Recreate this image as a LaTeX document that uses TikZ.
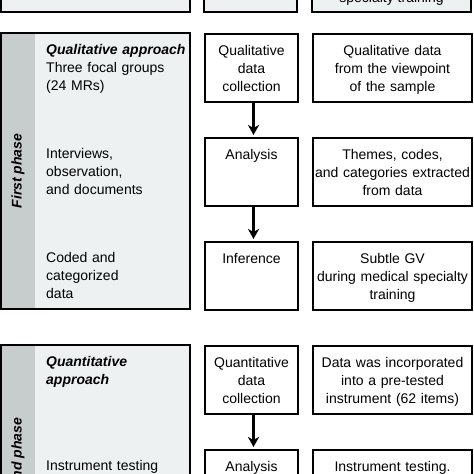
\documentclass[tikz,border=0pt]{standalone}
\usepackage{fontspec}
\setmainfont{Liberation Sans}
\usetikzlibrary{arrows.meta, positioning}
\definecolor{stripgray}{RGB}{199,205,204}
\definecolor{panelgray}{RGB}{238,241,241}
\tikzset{
  body font/.style={font=\fontsize{14}{18}\selectfont},
  stage box/.style={
    body font, draw=black, line width=2pt, fill=white,  % framed step
    inner sep=0pt, align=center, anchor=north west,
    text height=21pt, text depth=47pt,                  % text sits at the top
  },
  mid box/.style={stage box, text width=93pt},
  out box/.style={stage box, text width=159pt},
  panel text/.style={body font, anchor=base west, align=left, inner sep=0pt, text width=140pt},
  phase label/.style={rotate=90, inner sep=0pt, font=\bfseries\itshape\fontsize{14}{18}\selectfont},
  flow arrow/.style={
    -{Stealth[length=10pt, width=11pt, inset=3pt]},
    line width=2.5pt, shorten >=2pt,
  }
}

\begin{document}
\begin{tikzpicture}[x=1pt, y=1pt]
    \useasboundingbox (0,0) rectangle (474,-474);
    \clip (0,0) rectangle (474,-474);
    \def\lw{2pt}

    % Row above (cut by the frame)
    \draw[line width=\lw, fill=panelgray] (1,40) rectangle (190,-12);
    \draw[line width=\lw, fill=panelgray] (204,40) rectangle (297,-12);
    \draw[line width=\lw, fill=panelgray] (312,40) rectangle (471,-12);
    \node[body font, anchor=base, inner sep=0pt] (top) at (391.5,-2) {specialty training};

    % First phase panel
    \fill[panelgray] (1,-33) rectangle (190,-309);
    \fill[stripgray] (1,-33) rectangle (35,-309);
    \draw[line width=\lw] (1,-33) rectangle (190,-309);
    \node[phase label] (p1) at (18,-171) {First phase};

    \node[panel text] (qa) at (46,-54) {\textbf{\textit{Qualitative approach}}\\Three focal groups\\(24 MRs)};
    \node[panel text] (iod) at (46,-158) {Interviews,\\observation,\\and documents};
    \node[panel text] (ccd) at (46,-262) {Coded and\\categorized\\data};

    \node[mid box] (qdc) at (204,-33) {Qualitative\\data\\collection};
    \node[mid box] (ana1) at (204,-137) {Analysis};
    \node[mid box] (inf) at (204,-241) {Inference};

    \node[out box] (view) at (312,-33) {Qualitative data\\from the viewpoint\\of the sample};
    \node[out box] (themes) at (312,-137) {Themes, codes,\\and categories extracted\\from data};
    \node[out box] (gv) at (312,-241) {Subtle GV\\during medical specialty\\training};

    % Second phase panel
    \fill[panelgray] (1,-345) rectangle (190,-586);
    \fill[stripgray] (1,-345) rectangle (35,-586);
    \draw[line width=\lw] (1,-345) rectangle (190,-586);
    \node[phase label] (p2) at (18,-465.5) {Second phase};

    \node[panel text] (qta) at (46,-366) {\textbf{\textit{Quantitative}}\\\textbf{\textit{approach}}};
    \node[panel text] (itest) at (46,-470) {Instrument testing};

    \node[mid box] (qtdc) at (204,-345) {Quantitative\\data\\collection};
    \node[mid box] (ana2) at (204,-449) {Analysis};

    \node[out box] (instr) at (312,-345) {Data was incorporated\\into a pre-tested\\instrument (62 items)};
    \node[out box] (itest2) at (312,-449) {Instrument testing.};

    % Arrows
    \foreach \a/\b in {qdc/ana1, ana1/inf, qtdc/ana2} {
        \draw[flow arrow] ([xshift=2pt]\a.south) -- ([xshift=2pt]\b.north);
    }
\end{tikzpicture}
\end{document}
